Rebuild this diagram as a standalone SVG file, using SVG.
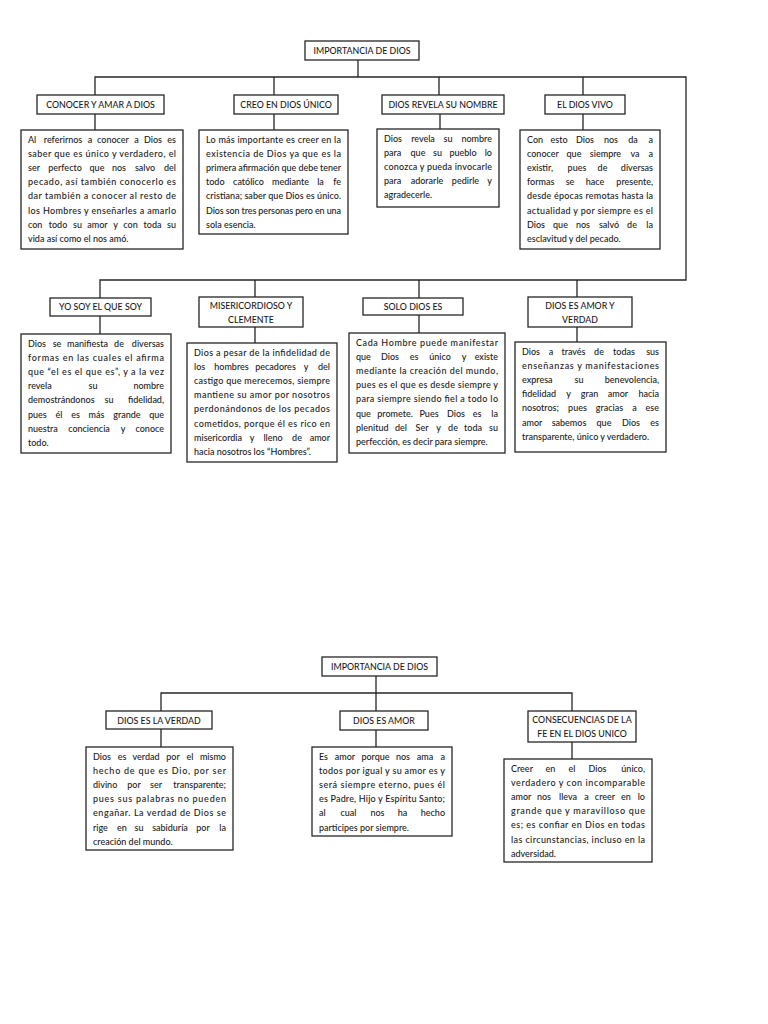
<svg xmlns="http://www.w3.org/2000/svg" width="768" height="1024" viewBox="0 0 768 1024">
<style>
text{font-family:Lato,"Open Sans","Liberation Sans",sans-serif;fill:#1a1a1a}
.b{font-size:9px;font-weight:500}
.h{font-size:8.8px;font-weight:500;text-anchor:middle}
.m{text-anchor:middle}
.e{text-anchor:end}
.box{fill:#fff;stroke:#262626;stroke-width:1.3}
.ln{fill:none;stroke:#262626;stroke-width:1.3}
</style>
<rect width="768" height="1024" fill="#fff"/>
<g id="connectors" class="ln">
<path d="M358,60V77"/>
<path d="M95,95V77H686V280H100V298"/>
<path d="M274,77V95M439,77V95M583,77V95"/>
<path d="M95,114V130M274,114V130M440,114V129M583,114V130"/>
<path d="M255,280V297M419,280V298M577,280V297"/>
<path d="M100,316V334M255,327V343M419,315V333M577,327V342"/>
<path d="M376,676V711M161,711V693H572V711"/>
<path d="M161,729V747M376,730V747M572,742V759"/>
</g>

<g id="n-importancia">
<rect class="box" x="305" y="41" width="114" height="19"/>
<text class="h" x="362" y="53.8">IMPORTANCIA DE DIOS</text>
</g>

<g id="n-conocer">
<rect class="box" x="37" y="95" width="127" height="19"/>
<text class="h" x="100.5" y="107.8">CONOCER Y AMAR A DIOS</text>
</g>
<g id="n-conocer-txt" class="b">
<rect class="box" x="21" y="130" width="162" height="119"/>
<text x="28" y="142.5">Al</text><text class="m" x="63" y="142.5">referirnos</text><text class="m" x="90" y="142.5">a</text><text class="m" x="113" y="142.5">conocer</text><text class="m" x="136.5" y="142.5">a</text><text class="m" x="153" y="142.5">Dios</text><text class="e" x="176" y="142.5">es</text>
<text x="28" y="156.7" textLength="148" lengthAdjust="spacing">saber que es único y verdadero, el</text>
<text x="28" y="170.9">ser</text><text class="m" x="65" y="170.9">perfecto</text><text class="m" x="97" y="170.9">que</text><text class="m" x="119" y="170.9">nos</text><text class="m" x="145" y="170.9">salvo</text><text class="e" x="176" y="170.9">del</text>
<text x="28" y="185.1" textLength="148" lengthAdjust="spacing">pecado, así también conocerlo es</text>
<text x="28" y="199.3" textLength="148" lengthAdjust="spacing">dar también a conocer al resto de</text>
<text x="28" y="213.5" textLength="148" lengthAdjust="spacing">los Hombres y enseñarles a amarlo</text>
<text x="28" y="227.7">con</text><text class="m" x="58" y="227.7">todo</text><text class="m" x="77.5" y="227.7">su</text><text class="m" x="97.5" y="227.7">amor</text><text class="m" x="115.5" y="227.7">y</text><text class="m" x="130.5" y="227.7">con</text><text class="m" x="152.5" y="227.7">toda</text><text class="e" x="176" y="227.7">su</text>
<text x="28" y="241.9">vida así como el nos amó.</text>
</g>

<g id="n-creo">
<rect class="box" x="234" y="95" width="104" height="19"/>
<text class="h" x="286" y="107.8">CREO EN DIOS ÚNICO</text>
</g>
<g id="n-creo-txt" class="b">
<rect class="box" x="199" y="130" width="149" height="104"/>
<text x="206" y="142.5" textLength="135" lengthAdjust="spacing">Lo más importante es creer en la</text>
<text x="206" y="156.7" textLength="135" lengthAdjust="spacing">existencia de Dios ya que es la</text>
<text x="206" y="170.9" textLength="135" lengthAdjust="spacing">primera afirmación que debe tener</text>
<text x="206" y="185.1">todo</text><text class="m" x="248.5" y="185.1">católico</text><text class="m" x="290.5" y="185.1">mediante</text><text class="m" x="320.5" y="185.1">la</text><text class="e" x="341" y="185.1">fe</text>
<text x="206" y="199.3" textLength="135" lengthAdjust="spacing">cristiana; saber que Dios es único.</text>
<text x="206" y="213.5" textLength="135" lengthAdjust="spacing">Dios son tres personas pero en una</text>
<text x="206" y="227.7">sola esencia.</text>
</g>

<g id="n-revela">
<rect class="box" x="382" y="95" width="122" height="19"/>
<text class="h" x="443" y="107.8">DIOS REVELA SU NOMBRE</text>
</g>
<g id="n-revela-txt" class="b">
<rect class="box" x="377" y="129" width="122" height="78"/>
<text x="384" y="141.5">Dios</text><text class="m" x="423" y="141.5">revela</text><text class="m" x="448" y="141.5">su</text><text class="e" x="492" y="141.5">nombre</text>
<text x="384" y="155.7">para</text><text class="m" x="418" y="155.7">que</text><text class="m" x="437.5" y="155.7">su</text><text class="m" x="463" y="155.7">pueblo</text><text class="e" x="492" y="155.7">lo</text>
<text x="384" y="169.9" textLength="108" lengthAdjust="spacing">conozca y pueda invocarle</text>
<text x="384" y="184.1">para</text><text class="m" x="427" y="184.1">adorarle</text><text class="m" x="465.5" y="184.1">pedirle</text><text class="e" x="492" y="184.1">y</text>
<text x="384" y="198.3">agradecerle.</text>
</g>

<g id="n-vivo">
<rect class="box" x="545" y="95" width="80" height="19"/>
<text class="h" x="585" y="107.8">EL DIOS VIVO</text>
</g>
<g id="n-vivo-txt" class="b">
<rect class="box" x="520" y="130" width="140" height="119"/>
<text x="527" y="142.5">Con</text><text class="m" x="559" y="142.5">esto</text><text class="m" x="585" y="142.5">Dios</text><text class="m" x="611" y="142.5">nos</text><text class="m" x="633" y="142.5">da</text><text class="e" x="653" y="142.5">a</text>
<text x="527" y="156.7">conocer</text><text class="m" x="574" y="156.7">que</text><text class="m" x="605.5" y="156.7">siempre</text><text class="m" x="635" y="156.7">va</text><text class="e" x="653" y="156.7">a</text>
<text x="527" y="170.9">existir,</text><text class="m" x="577" y="170.9">pues</text><text class="m" x="602.5" y="170.9">de</text><text class="e" x="653" y="170.9">diversas</text>
<text x="527" y="185.1">formas</text><text class="m" x="570" y="185.1">se</text><text class="m" x="595" y="185.1">hace</text><text class="e" x="653" y="185.1">presente,</text>
<text x="527" y="199.3" textLength="126" lengthAdjust="spacing">desde épocas remotas hasta la</text>
<text x="527" y="213.5" textLength="126" lengthAdjust="spacing">actualidad y por siempre es el</text>
<text x="527" y="227.7">Dios</text><text class="m" x="560.5" y="227.7">que</text><text class="m" x="583" y="227.7">nos</text><text class="m" x="609" y="227.7">salvó</text><text class="m" x="632" y="227.7">de</text><text class="e" x="653" y="227.7">la</text>
<text x="527" y="241.9">esclavitud y del pecado.</text>
</g>

<g id="n-yosoy">
<rect class="box" x="50" y="298" width="101" height="18"/>
<text class="h" x="100.5" y="310.3">YO SOY EL QUE SOY</text>
</g>
<g id="n-yosoy-txt" class="b">
<rect class="box" x="21" y="334" width="150" height="119"/>
<text x="28" y="346.5">Dios</text><text class="m" x="57" y="346.5">se</text><text class="m" x="87.5" y="346.5">manifiesta</text><text class="m" x="119" y="346.5">de</text><text class="e" x="164" y="346.5">diversas</text>
<text x="28" y="360.7" textLength="136" lengthAdjust="spacing">formas en las cuales el afirma</text>
<text x="28" y="374.9" textLength="136" lengthAdjust="spacing">que “el es el que es”, y a la vez</text>
<text x="28" y="389.1">revela</text><text class="m" x="93" y="389.1">su</text><text class="e" x="164" y="389.1">nombre</text>
<text x="28" y="403.3">demostrándonos</text><text class="m" x="109" y="403.3">su</text><text class="e" x="164" y="403.3">fidelidad,</text>
<text x="28" y="417.5">pues</text><text class="m" x="59" y="417.5">él</text><text class="m" x="75.5" y="417.5">es</text><text class="m" x="96.5" y="417.5">más</text><text class="m" x="127" y="417.5">grande</text><text class="e" x="164" y="417.5">que</text>
<text x="28" y="431.7">nuestra</text><text class="m" x="89" y="431.7">conciencia</text><text class="m" x="123" y="431.7">y</text><text class="e" x="164" y="431.7">conoce</text>
<text x="28" y="445.9">todo.</text>
</g>

<g id="n-miser">
<rect class="box" x="199" y="297" width="104" height="30"/>
<text class="h" x="251" y="308.8">MISERICORDIOSO Y</text>
<text class="h" x="251" y="322.8">CLEMENTE</text>
</g>
<g id="n-miser-txt" class="b">
<rect class="box" x="187" y="343" width="150" height="119"/>
<text x="194" y="355.5" textLength="136" lengthAdjust="spacing">Dios a pesar de la infidelidad de</text>
<text x="194" y="369.7">los</text><text class="m" x="231.5" y="369.7">hombres</text><text class="m" x="275.5" y="369.7">pecadores</text><text class="m" x="306" y="369.7">y</text><text class="e" x="330" y="369.7">del</text>
<text x="194" y="383.9" textLength="136" lengthAdjust="spacing">castigo que merecemos, siempre</text>
<text x="194" y="398.1" textLength="136" lengthAdjust="spacing">mantiene su amor por nosotros</text>
<text x="194" y="412.3" textLength="136" lengthAdjust="spacing">perdonándonos de los pecados</text>
<text x="194" y="426.5" textLength="136" lengthAdjust="spacing">cometidos, porque él es rico en</text>
<text x="194" y="440.7">misericordia</text><text class="m" x="252" y="440.7">y</text><text class="m" x="273" y="440.7">lleno</text><text class="m" x="297" y="440.7">de</text><text class="e" x="330" y="440.7">amor</text>
<text x="194" y="454.9">hacia nosotros los “Hombres”.</text>
</g>

<g id="n-solo">
<rect class="box" x="363" y="298" width="100" height="17"/>
<text class="h" x="413" y="310">SOLO DIOS ES</text>
</g>
<g id="n-solo-txt" class="b">
<rect class="box" x="349" y="333" width="156" height="120"/>
<text x="356" y="345.5" textLength="142" lengthAdjust="spacing">Cada Hombre puede manifestar</text>
<text x="356" y="359.7">que</text><text class="m" x="390" y="359.7">Dios</text><text class="m" x="414" y="359.7">es</text><text class="m" x="440" y="359.7">único</text><text class="m" x="464" y="359.7">y</text><text class="e" x="498" y="359.7">existe</text>
<text x="356" y="373.9" textLength="142" lengthAdjust="spacing">mediante la creación del mundo,</text>
<text x="356" y="388.1" textLength="142" lengthAdjust="spacing">pues es el que es desde siempre y</text>
<text x="356" y="402.3" textLength="142" lengthAdjust="spacing">para siempre siendo fiel a todo lo</text>
<text x="356" y="416.5">que</text><text class="m" x="395" y="416.5">promete.</text><text class="m" x="429" y="416.5">Pues</text><text class="m" x="456" y="416.5">Dios</text><text class="m" x="477" y="416.5">es</text><text class="e" x="498" y="416.5">la</text>
<text x="356" y="430.7">plenitud</text><text class="m" x="401" y="430.7">del</text><text class="m" x="422" y="430.7">Ser</text><text class="m" x="438.5" y="430.7">y</text><text class="m" x="453" y="430.7">de</text><text class="m" x="473" y="430.7">toda</text><text class="e" x="498" y="430.7">su</text>
<text x="356" y="444.9">perfección, es decir para siempre.</text>
</g>

<g id="n-amorverdad">
<rect class="box" x="528" y="297" width="104" height="30"/>
<text class="h" x="580" y="308.8">DIOS ES AMOR Y</text>
<text class="h" x="580" y="322.8">VERDAD</text>
</g>
<g id="n-amorverdad-txt" class="b">
<rect class="box" x="515" y="342" width="151" height="110"/>
<text x="522" y="354.5">Dios</text><text class="m" x="551" y="354.5">a</text><text class="m" x="573.5" y="354.5">través</text><text class="m" x="599" y="354.5">de</text><text class="m" x="624" y="354.5">todas</text><text class="e" x="659" y="354.5">sus</text>
<text x="522" y="368.7" textLength="137" lengthAdjust="spacing">enseñanzas y manifestaciones</text>
<text x="522" y="382.9">expresa</text><text class="m" x="579" y="382.9">su</text><text class="e" x="659" y="382.9">benevolencia,</text>
<text x="522" y="397.1">fidelidad</text><text class="m" x="568.5" y="397.1">y</text><text class="m" x="589.5" y="397.1">gran</text><text class="m" x="618" y="397.1">amor</text><text class="e" x="659" y="397.1">hacia</text>
<text x="522" y="411.3">nosotros;</text><text class="m" x="577.5" y="411.3">pues</text><text class="m" x="609.5" y="411.3">gracias</text><text class="m" x="634.5" y="411.3">a</text><text class="e" x="659" y="411.3">ese</text>
<text x="522" y="425.5">amor</text><text class="m" x="569" y="425.5">sabemos</text><text class="m" x="604" y="425.5">que</text><text class="m" x="631" y="425.5">Dios</text><text class="e" x="659" y="425.5">es</text>
<text x="522" y="439.7">transparente, único y verdadero.</text>
</g>

<g id="n-importancia2">
<rect class="box" x="322" y="657" width="115" height="19"/>
<text class="h" x="379.5" y="669.8">IMPORTANCIA DE DIOS</text>
</g>

<g id="n-laverdad">
<rect class="box" x="106" y="711" width="106" height="18"/>
<text class="h" x="159" y="723.5">DIOS ES LA VERDAD</text>
</g>
<g id="n-laverdad-txt" class="b">
<rect class="box" x="86" y="747" width="147" height="103"/>
<text x="93" y="759.5">Dios</text><text class="m" x="122" y="759.5">es</text><text class="m" x="146" y="759.5">verdad</text><text class="m" x="173" y="759.5">por</text><text class="m" x="190" y="759.5">el</text><text class="e" x="226" y="759.5">mismo</text>
<text x="93" y="773.7" textLength="133" lengthAdjust="spacing">hecho de que es Dio, por ser</text>
<text x="93" y="787.9">divino</text><text class="m" x="134" y="787.9">por</text><text class="m" x="156" y="787.9">ser</text><text class="e" x="226" y="787.9">transparente;</text>
<text x="93" y="802.1" textLength="133" lengthAdjust="spacing">pues sus palabras no pueden</text>
<text x="93" y="816.3" textLength="133" lengthAdjust="spacing">engañar. La verdad de Dios se</text>
<text x="93" y="830.5">rige</text><text class="m" x="122" y="830.5">en</text><text class="m" x="139" y="830.5">su</text><text class="m" x="170" y="830.5">sabiduría</text><text class="m" x="203" y="830.5">por</text><text class="e" x="226" y="830.5">la</text>
<text x="93" y="844.7">creación del mundo.</text>
</g>

<g id="n-esamor">
<rect class="box" x="340" y="711" width="88" height="19"/>
<text class="h" x="384" y="723.8">DIOS ES AMOR</text>
</g>
<g id="n-esamor-txt" class="b">
<rect class="box" x="312" y="747" width="140" height="89"/>
<text x="319" y="759.5">Es</text><text class="m" x="345" y="759.5">amor</text><text class="m" x="375.5" y="759.5">porque</text><text class="m" x="403" y="759.5">nos</text><text class="m" x="425" y="759.5">ama</text><text class="e" x="445" y="759.5">a</text>
<text x="319" y="773.7" textLength="126" lengthAdjust="spacing">todos por igual y su amor es y</text>
<text x="319" y="787.9" textLength="126" lengthAdjust="spacing">será siempre eterno, pues él</text>
<text x="319" y="802.1" textLength="126" lengthAdjust="spacing">es Padre, Hijo y Espíritu Santo;</text>
<text x="319" y="816.3">al</text><text class="m" x="348.5" y="816.3">cual</text><text class="m" x="377.5" y="816.3">nos</text><text class="m" x="402.5" y="816.3">ha</text><text class="e" x="445" y="816.3">hecho</text>
<text x="319" y="830.5">participes por siempre.</text>
</g>

<g id="n-consec">
<rect class="box" x="528" y="711" width="108" height="31"/>
<text class="h" x="582" y="723.3">CONSECUENCIAS DE LA</text>
<text class="h" x="582" y="737.3">FE EN EL DIOS UNICO</text>
</g>
<g id="n-consec-txt" class="b">
<rect class="box" x="504" y="759" width="148" height="103"/>
<text x="511" y="771.5">Creer</text><text class="m" x="550.5" y="771.5">en</text><text class="m" x="572" y="771.5">el</text><text class="m" x="597.5" y="771.5">Dios</text><text class="e" x="645" y="771.5">único,</text>
<text x="511" y="785.7" textLength="134" lengthAdjust="spacing">verdadero y con incomparable</text>
<text x="511" y="799.9">amor</text><text class="m" x="544" y="799.9">nos</text><text class="m" x="568" y="799.9">lleva</text><text class="m" x="586.5" y="799.9">a</text><text class="m" x="605" y="799.9">creer</text><text class="m" x="626" y="799.9">en</text><text class="e" x="645" y="799.9">lo</text>
<text x="511" y="814.1" textLength="134" lengthAdjust="spacing">grande que y maravilloso que</text>
<text x="511" y="828.3" textLength="134" lengthAdjust="spacing">es; es confiar en Dios en todas</text>
<text x="511" y="842.5" textLength="134" lengthAdjust="spacing">las circunstancias, incluso en la</text>
<text x="511" y="856.7">adversidad.</text>
</g>
</svg>
